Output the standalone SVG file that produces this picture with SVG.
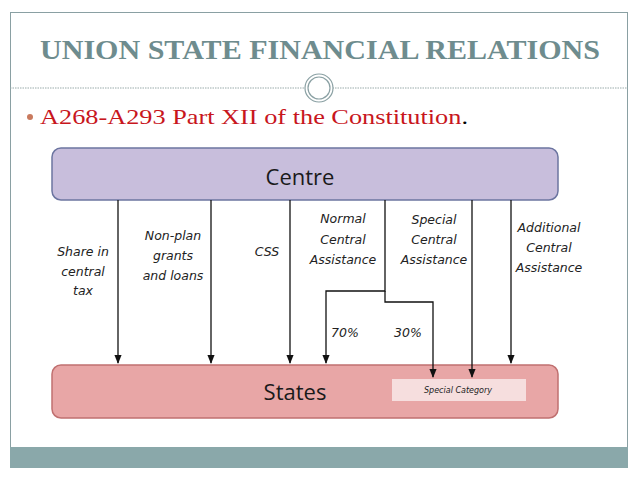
<svg xmlns="http://www.w3.org/2000/svg" width="638" height="479" viewBox="0 0 638 479">
<defs>
<marker id="ah" viewBox="0 0 10 10" refX="9" refY="5" markerWidth="7" markerHeight="7" orient="auto"><path d="M0,1 L10,5 L0,9 z" fill="#111"/></marker>
</defs>
<style>
.lbl{font-family:"DejaVu Sans",sans-serif;font-style:italic;font-size:12.5px;fill:#222;text-anchor:middle}
.ln{stroke:#111;stroke-width:1.3;fill:none}
</style>
<rect width="638" height="479" fill="#fff"/>
<rect x="10.5" y="12.5" width="617" height="455" fill="none" stroke="#8aa0a3"/>
<rect x="10" y="447" width="618" height="21" fill="#8aa8aa"/>
<text x="40" y="59" font-family="Liberation Serif,serif" font-weight="bold" font-size="27" fill="#6e8c8e" textLength="560" lengthAdjust="spacingAndGlyphs">UNION  STATE  FINANCIAL RELATIONS</text>
<line x1="10" y1="88" x2="628" y2="88" stroke="#9aa" stroke-dasharray="1.5,1"/>
<circle cx="319" cy="88" r="14" fill="#fff" stroke="#8aa0a3" stroke-width="1.2"/>
<circle cx="319" cy="88" r="11" fill="#fff" stroke="#8aa0a3" stroke-width="1.2"/>
<circle cx="30" cy="117" r="3" fill="#c97a5e"/>
<text x="40" y="124" font-family="Liberation Serif,serif" font-size="22" fill="#c8161d" textLength="428" lengthAdjust="spacingAndGlyphs">A268-A293 Part XII of the Constitution<tspan fill="#000">.</tspan></text>
<g id="centre"><rect x="52" y="148" width="506" height="52" rx="9" fill="#c8bedc" stroke="#6c75a0" stroke-width="1.5"/>
<text x="300" y="185" font-family="Open Sans,sans-serif" font-size="22" fill="#1a1a1a" text-anchor="middle">Centre</text></g>
<g id="states"><rect x="52" y="365" width="506" height="53" rx="9" fill="#e8a6a6" stroke="#c07070" stroke-width="1.5"/>
<text x="295" y="400" font-family="Open Sans,sans-serif" font-size="22" fill="#1a1a1a" text-anchor="middle">States</text>
<rect x="392" y="379" width="134" height="22" fill="#f6dede"/>
<text x="458" y="393" font-family="DejaVu Sans,sans-serif" font-style="italic" font-size="8" fill="#222" text-anchor="middle">Special Category</text></g>
<g id="connectors">
<line class="ln" x1="118" y1="200" x2="118" y2="363" marker-end="url(#ah)"/>
<line class="ln" x1="211" y1="200" x2="211" y2="363" marker-end="url(#ah)"/>
<line class="ln" x1="290" y1="200" x2="290" y2="363" marker-end="url(#ah)"/>
<path class="ln" d="M385,200 V291 H326 V363" marker-end="url(#ah)"/>
<path class="ln" d="M385,291 V302 H433 V377" marker-end="url(#ah)"/>
<line class="ln" x1="472" y1="200" x2="472" y2="377" marker-end="url(#ah)"/>
<line class="ln" x1="511" y1="200" x2="511" y2="363" marker-end="url(#ah)"/>
</g>
<g id="labels">
<text class="lbl" x="83" y="256">Share in</text><text class="lbl" x="83" y="276">central</text><text class="lbl" x="83" y="295">tax</text>
<text class="lbl" x="173" y="240">Non-plan</text><text class="lbl" x="173" y="260">grants</text><text class="lbl" x="173" y="280">and loans</text>
<text class="lbl" x="267" y="256">CSS</text>
<text class="lbl" x="343" y="223">Normal</text><text class="lbl" x="343" y="244">Central</text><text class="lbl" x="343" y="264">Assistance</text>
<text class="lbl" x="434" y="224">Special</text><text class="lbl" x="434" y="244">Central</text><text class="lbl" x="434" y="264">Assistance</text>
<text class="lbl" x="549" y="232">Additional</text><text class="lbl" x="549" y="252">Central</text><text class="lbl" x="549" y="272">Assistance</text>
<text class="lbl" x="345" y="337">70%</text>
<text class="lbl" x="408" y="337">30%</text>
</g>
</svg>
